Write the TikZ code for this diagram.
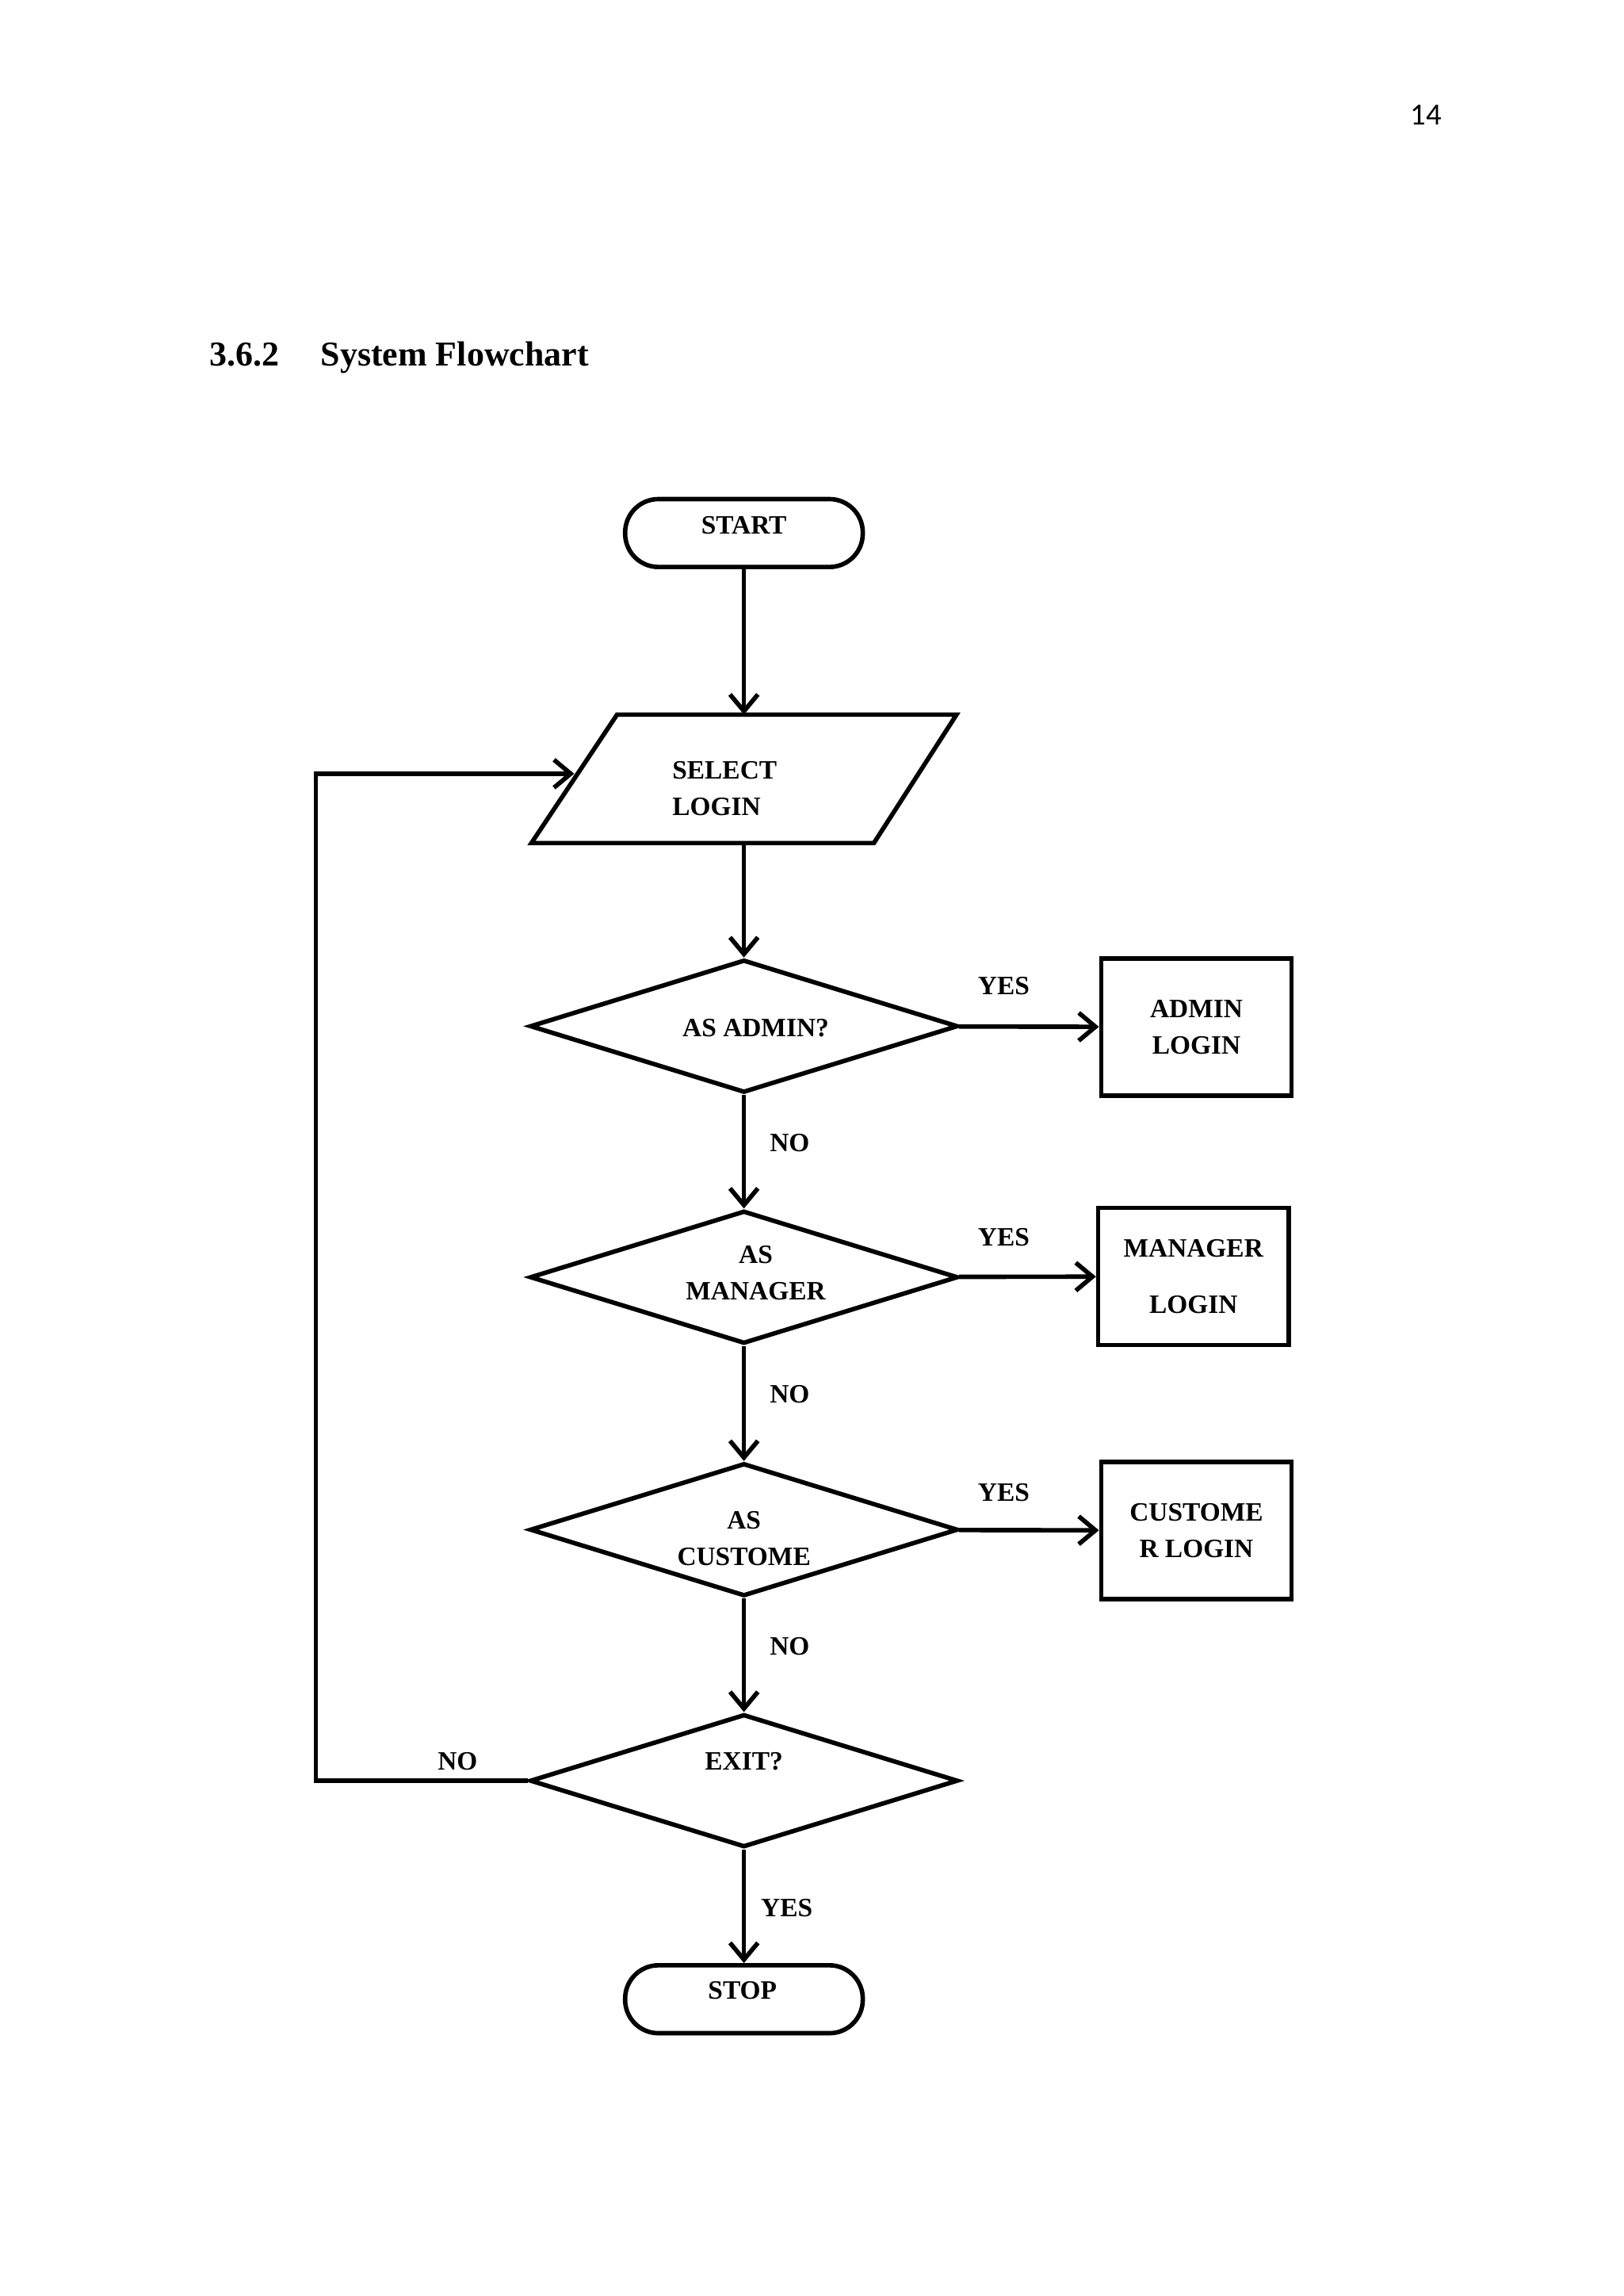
\documentclass[tikz,border=0pt]{standalone}
\usepackage{fontspec}
\setmainfont{Liberation Serif}
\newfontfamily\pgnum{Carlito}
\usetikzlibrary{shapes.geometric,arrows.meta}
\begin{document}
\begin{tikzpicture}[x=0.01862cm,y=-0.01862cm,line width=1.6pt,
  every node/.style={font=\fontsize{9.5}{13}\selectfont\bfseries},
  term/.style={draw,rounded corners=0.42cm,minimum width=161*0.01862cm,minimum height=46*0.01862cm,inner sep=0},
  dec/.style={draw,diamond,inner sep=0,minimum width=290*0.01862cm,minimum height=90*0.01862cm},
  box/.style={draw,minimum width=129*0.01862cm,minimum height=93*0.01862cm,inner sep=0,align=center},
  arr/.style={-{Straight Barb[length=6pt,width=10pt,line width=1.6pt]}},
  lab/.style={inner sep=0}]
\useasboundingbox (0,0) rectangle (1100,1555);
\node[font=\pgnum\fontsize{11}{13}\selectfont] (pg) at (966,78) {14};
\node[anchor=west,font=\fontsize{12.5}{14}\selectfont\bfseries] (hd) at (134,242) {3.6.2\hspace{1.2em}System Flowchart};
\node[term] (start) at (504,361) {};
\node[lab] (startt) at (504,356) {START};
\coordinate (p1) at (418,484); \coordinate (p2) at (648,484);
\coordinate (p3) at (592,571); \coordinate (p4) at (360,571);
\draw (p1)--(p2)--(p3)--(p4)--cycle;
\coordinate (ptop) at (504,484); \coordinate (pbot) at (504,571); \coordinate (pleft) at (389,524);
\node[lab,align=left,anchor=west] (sel) at (454,534) {SELECT\\LOGIN};
\node[dec] (d1) at (504,695) {};
\node[lab] (d1t) at (512,696) {AS ADMIN?};
\node[dec] (d2) at (504,865) {};
\node[lab,align=center] (d2t) at (512,862) {AS\\MANAGER};
\node[dec] (d3) at (504,1036) {};
\node[lab,align=center] (d3t) at (504,1042) {AS\\CUSTOME};
\node[dec] (d4) at (504,1206) {};
\node[lab] (d4t) at (504,1193) {EXIT?};
\node[term] (stop) at (504,1354) {};
\node[lab] (stopt) at (503,1348) {STOP};
\node[box] (b1) at (810.5,695.5) {ADMIN\\LOGIN};
\node[box,font=\fontsize{9.5}{20}\selectfont\bfseries] (b2) at (808.5,864.5) {MANAGER\\LOGIN};
\node[box] (b3) at (810.5,1036.5) {CUSTOME\\R LOGIN};
\draw[arr] (start) -- (ptop);
\draw[arr] (pbot) -- (d1);
\draw[arr] (d1) -- (d2);
\draw[arr] (d2) -- (d3);
\draw[arr] (d3) -- (d4);
\draw[arr] (d4) -- (stop);
\draw[arr] (d1) -- (b1);
\draw[arr] (d2) -- (b2);
\draw[arr] (d3) -- (b3);
\coordinate (c1) at (214,1206); \coordinate (c2) at (214,524);
\draw[arr] (d4.west) -- (c1) -- (c2) -- (pleft);
\node[lab] (y1) at (680,668) {YES};
\node[lab] (y2) at (680,838) {YES};
\node[lab] (y3) at (680,1011) {YES};
\node[lab] (n1) at (535,774) {NO};
\node[lab] (n2) at (535,944) {NO};
\node[lab] (n3) at (535,1115) {NO};
\node[lab] (n4) at (310,1193) {NO};
\node[lab] (y4) at (533,1292) {YES};
\end{tikzpicture}
\end{document}
